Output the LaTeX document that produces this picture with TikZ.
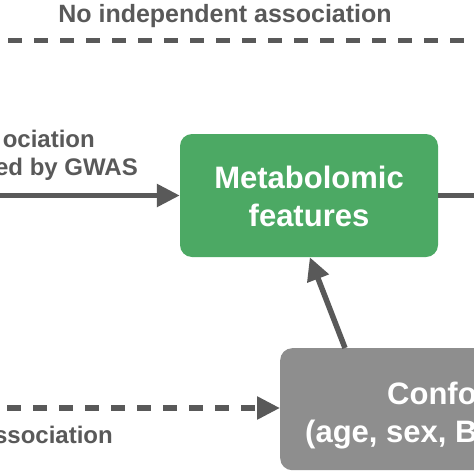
\documentclass[tikz,border=0pt]{standalone}
\usepackage{fontspec}
\setmainfont{Liberation Sans}
\usetikzlibrary{arrows.meta,calc}
\definecolor{ink}{HTML}{595959}
\definecolor{mgreen}{HTML}{4CA964}
\definecolor{cgrey}{HTML}{8E8E8E}
\begin{document}
\begin{tikzpicture}[x=1pt,y=-1pt,
  conn/.style={draw=ink,line width=5.5pt,-{Triangle[length=23pt,width=22pt]}},
  plain/.style={draw=ink,line width=5.5pt},
  dashline/.style={dash pattern=on 14pt off 12pt},
  lbl/.style={text=ink,font=\bfseries\fontsize{24}{29}\selectfont,inner sep=0pt},
  toplbl/.style={text=ink,font=\bfseries\fontsize{25}{30}\selectfont,inner sep=0pt},
  boxtxt/.style={text=white,font=\bfseries\fontsize{31}{38}\selectfont,inner sep=0pt},
  boxshape/.style={rounded corners=12pt,inner sep=0pt,draw=none}]
\useasboundingbox (0,0) rectangle (474,474);
\clip (0,0) rectangle (474,474);
\fill[white] (0,0) rectangle (474,474);

% top label and dashed line
\node[toplbl,anchor=base] (noind) at (225,22) {No independent association};
\coordinate (dl) at (8,40.5);
\coordinate (dr) at (474,40.5);
\draw[plain,dashline] (dl) -- (dr);

% metabolomic features box
\node[boxshape,fill=mgreen,minimum width=258pt,minimum height=123pt] (met) at (309,195.5) {};
\node[boxtxt,anchor=base] (m1) at (309,188) {Metabolomic};
\node[boxtxt,anchor=base] (m2) at (309,226) {features};

% left labels and arrow
\node[lbl,anchor=base east] (l1) at (95,147) {ociation};
\node[lbl,anchor=base east] (l2) at (138,175) {ed by GWAS};
\coordinate (inL) at (0,195.5);
\draw[conn] (inL) -- (met.west);
\coordinate (outR) at (474,195.5);
\draw[plain] (met.east) -- (outR);

% confounders box
\node[boxshape,fill=cgrey,minimum width=300pt,minimum height=122pt,anchor=north west] (conf) at (280,348) {};
\node[boxtxt,anchor=base west] (c1) at (387,404) {Confo};
\node[boxtxt,anchor=base west] (c2) at (305,442) {(age, sex, B};

% bottom dashed arrow and label
\coordinate (bl) at (7,408);
\draw[conn,dashline] (bl) -- (conf.west |- bl);
\node[lbl,anchor=base east] (l3) at (113,443) {ssociation};

% confounders -> metabolomic
\draw[conn] ($(conf.north west)+(65,0)$) -- ($(met.south west)+(130,0)$);
\end{tikzpicture}
\end{document}
